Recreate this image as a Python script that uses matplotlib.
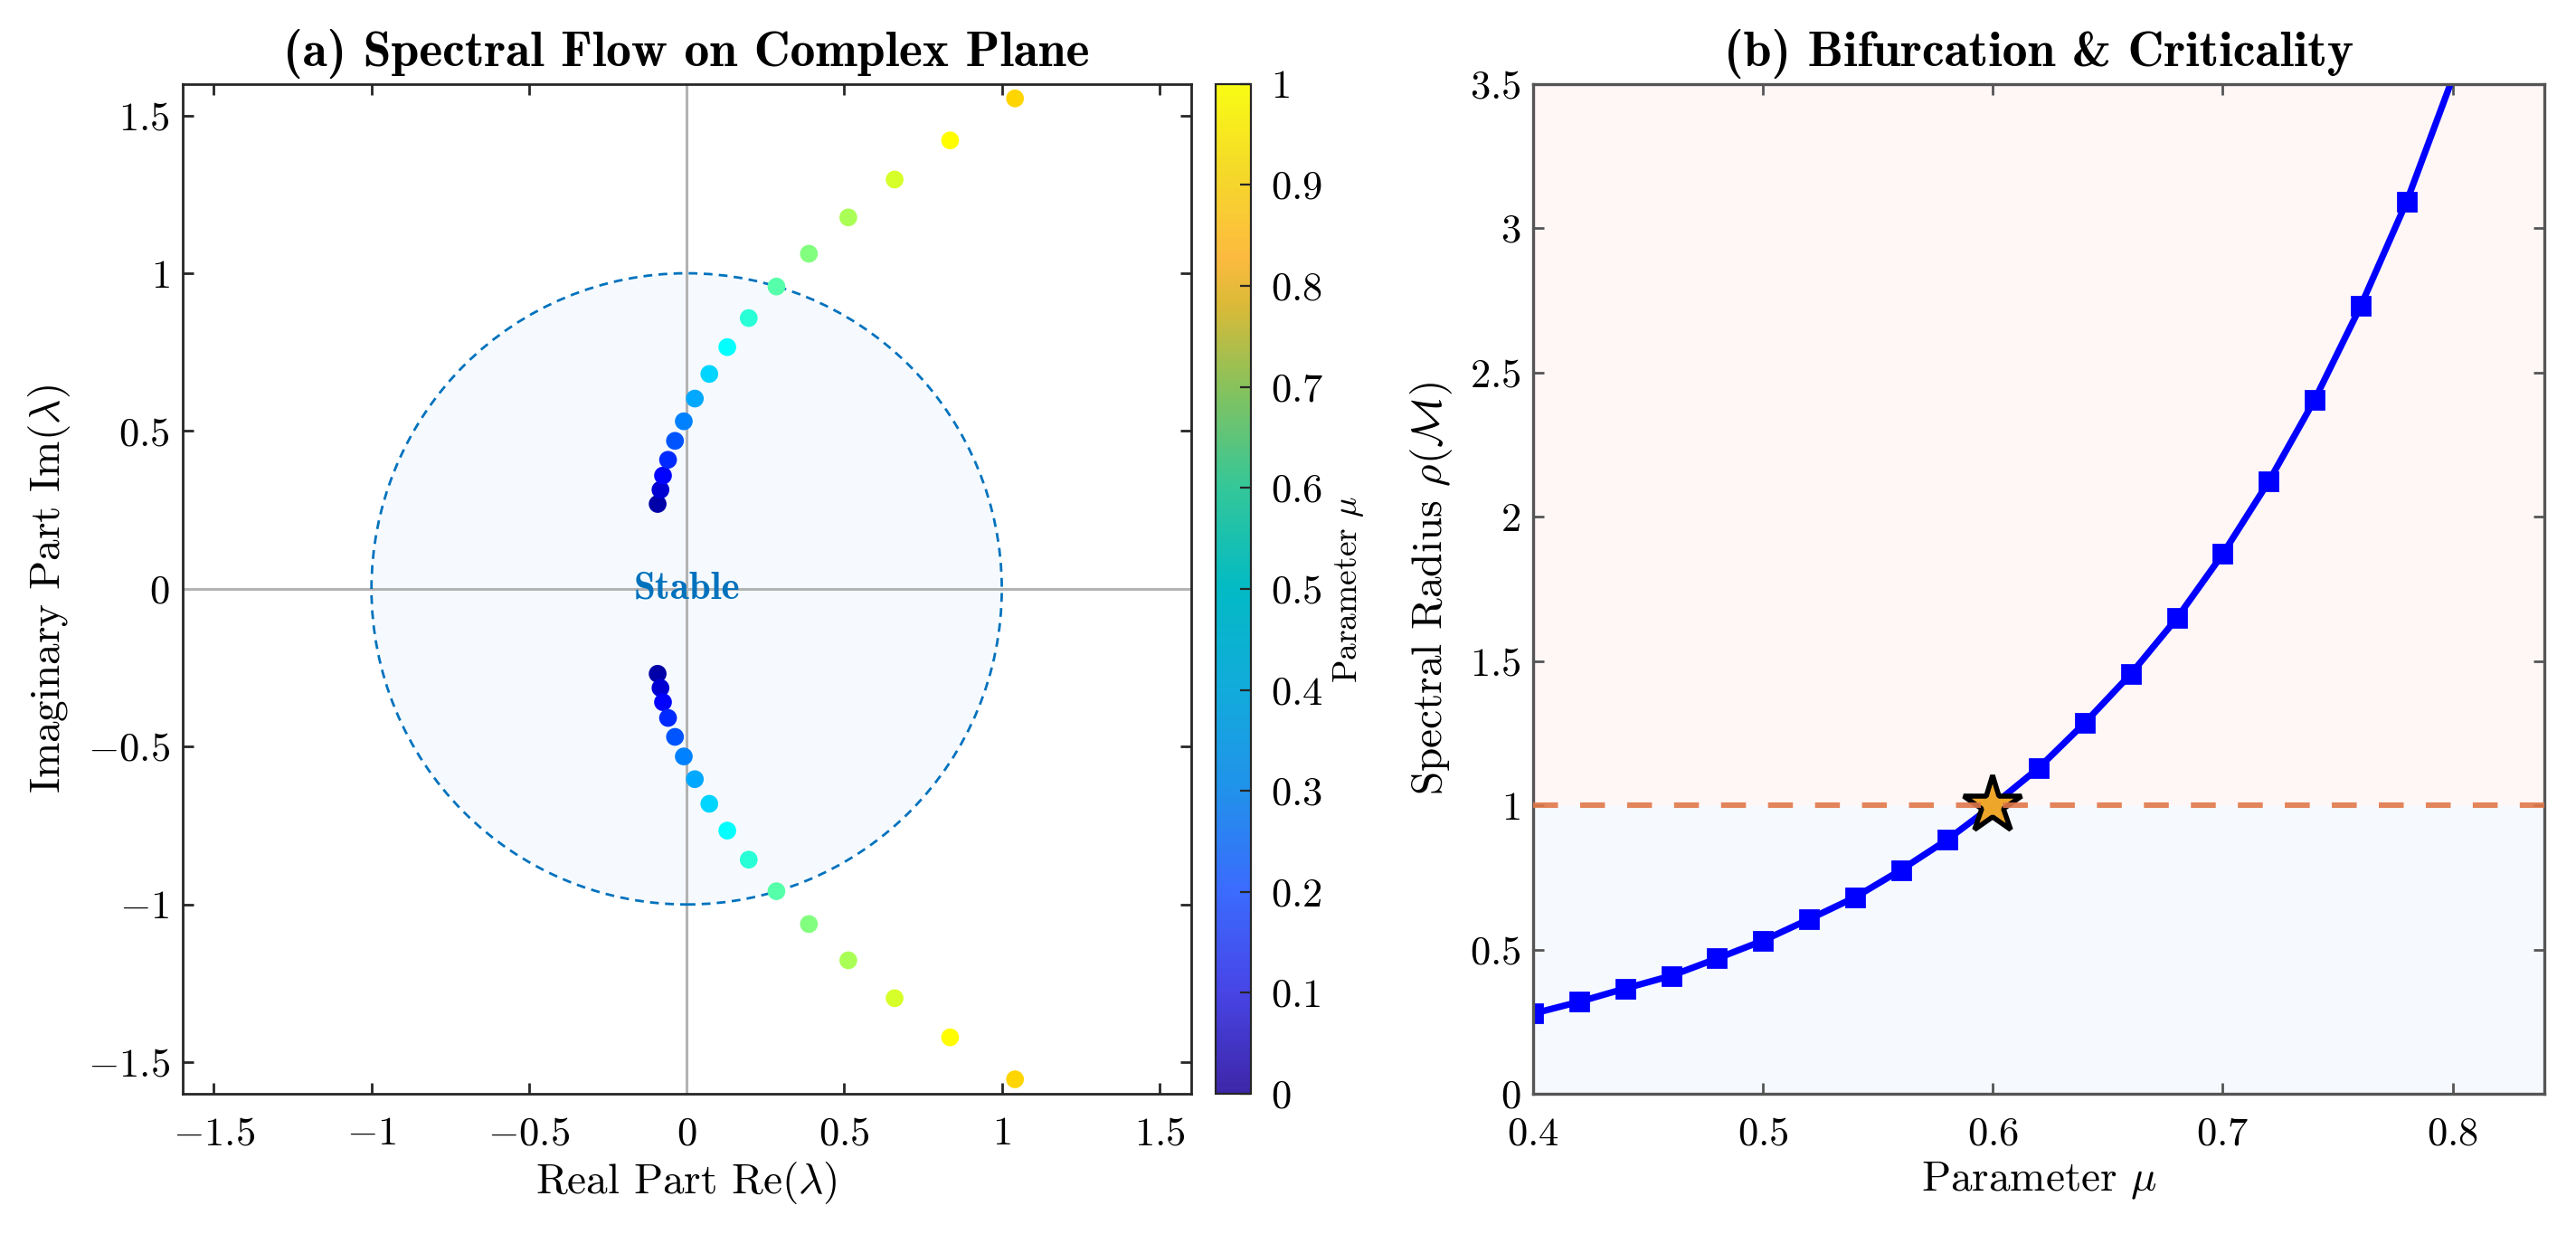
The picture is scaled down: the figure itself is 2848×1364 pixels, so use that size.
import numpy as np
import matplotlib
matplotlib.use("Agg")
import matplotlib.pyplot as plt
from matplotlib.colors import LinearSegmentedColormap, Normalize
from matplotlib.patches import Circle
from matplotlib.ticker import FuncFormatter, MultipleLocator
import matplotlib.cm as cm

plt.rcParams['font.family'] = 'serif'
plt.rcParams['font.serif'] = ['cmr10']
plt.rcParams['mathtext.fontset'] = 'cm'
plt.rcParams['axes.formatter.use_mathtext'] = True

# ---- data ----
# panel (a): upper-branch eigenvalues, the lower branch is the conjugate
mu_a = [0.40, 0.42, 0.44, 0.46, 0.48, 0.50, 0.52, 0.54,
        0.56, 0.58, 0.60, 0.62, 0.64, 0.66, 0.68, 0.70]
re_a = [-0.092, -0.083, -0.075, -0.059, -0.037, -0.009, 0.026, 0.072,
        0.129, 0.197, 0.285, 0.388, 0.513, 0.660, 0.836, 1.042]
im_a = [0.269, 0.314, 0.359, 0.409, 0.469, 0.531, 0.603, 0.681,
        0.766, 0.858, 0.958, 1.062, 1.177, 1.297, 1.421, 1.554]

# panel (b): spectral radius vs mu
mu_b = [0.40, 0.42, 0.44, 0.46, 0.48, 0.50, 0.52, 0.54, 0.56, 0.58, 0.60,
        0.62, 0.64, 0.66, 0.68, 0.70, 0.72, 0.74, 0.76, 0.78, 0.80]
rho_b = [0.278, 0.319, 0.365, 0.409, 0.469, 0.531, 0.605, 0.681, 0.776, 0.880, 1.0,
         1.130, 1.286, 1.455, 1.648, 1.871, 2.122, 2.406, 2.730, 3.092, 3.52]
crit_mu = 0.6
crit_rho = 1.0
unit_radius = 1.0

# MATLAB-style jet for the points, parula-like map for the colorbar
jet_m = LinearSegmentedColormap.from_list('jet_m', [
    (0.0, (0, 0, 0.5)), (0.125, (0, 0, 1)), (0.375, (0, 1, 1)),
    (0.625, (1, 1, 0)), (0.875, (1, 0, 0)), (1.0, (0.5, 0, 0))])
parula = LinearSegmentedColormap.from_list('parula', [
    (0.0, (0.2422, 0.1504, 0.6603)), (0.1, (0.2780, 0.2700, 0.9000)),
    (0.2, (0.2300, 0.4200, 0.9950)), (0.3, (0.1300, 0.5700, 0.9200)),
    (0.4, (0.0700, 0.6700, 0.8600)), (0.5, (0.0100, 0.7300, 0.7700)),
    (0.6, (0.2000, 0.7800, 0.6000)), (0.7, (0.5300, 0.7600, 0.3600)),
    (0.78, (0.8500, 0.7300, 0.2200)), (0.83, (0.9900, 0.7300, 0.2500)),
    (0.92, (0.9600, 0.8600, 0.1600)), (1.0, (0.9769, 0.9839, 0.0805))])

tick_fmt = FuncFormatter(lambda v, p: '$%g$' % round(v, 3))

fig = plt.figure(figsize=(14.24, 6.82), dpi=200)
ax1 = fig.add_axes([0.0708, 0.1136, 0.3915, 0.8184])
cax = fig.add_axes([0.4719, 0.1136, 0.0137, 0.8184])
ax2 = fig.add_axes([0.5952, 0.1136, 0.3926, 0.8184])

# ---- (a) complex plane ----
ax1.add_patch(Circle((0, 0), unit_radius, facecolor='#F6FAFE', edgecolor='none', zorder=1))
ax1.axhline(0, color='#B3B3B3', lw=1.1, zorder=2)
ax1.axvline(0, color='#B3B3B3', lw=1.1, zorder=2)
ax1.add_patch(Circle((0, 0), unit_radius, fill=False, edgecolor='#0072BD', lw=1.0,
                     linestyle=(0, (3.5, 2.5)), zorder=2.5))
cols = jet_m(Normalize(0.38, 0.86)(np.array(mu_a)))
ax1.scatter(re_a, im_a, s=50, c=cols, edgecolors='none', zorder=3)
ax1.scatter(re_a, -np.array(im_a), s=50, c=cols, edgecolors='none', zorder=3)
ax1.text(0, 0, 'Stable', family='cmb10', color='#0072BD', fontsize=15.5,
         ha='center', va='center', zorder=4)
ax1.set_xlim(-1.6, 1.6)
ax1.set_ylim(-1.6, 1.6)
ax1.xaxis.set_major_locator(MultipleLocator(0.5))
ax1.yaxis.set_major_locator(MultipleLocator(0.5))
ax1.xaxis.set_major_formatter(tick_fmt)
ax1.yaxis.set_major_formatter(tick_fmt)
ax1.tick_params(direction='in', top=True, right=True, length=4.3, width=1.0,
                labelsize=16, pad=5, color='#262626')
ax1.tick_params(axis='x', pad=9)
for s in ax1.spines.values():
    s.set_color('#262626')
    s.set_linewidth(1.0)
ax1.set_xlabel(r'Real Part Re($\lambda$)', fontsize=17, labelpad=3)
ax1.set_ylabel(r'Imaginary Part Im($\lambda$)', fontsize=17, labelpad=6)
ax1.set_title('(a) Spectral Flow on Complex Plane', family='cmb10', fontsize=20, pad=7)

# colorbar
sm = cm.ScalarMappable(norm=Normalize(0, 1), cmap=parula)
cb = fig.colorbar(sm, cax=cax, ticks=np.arange(0, 1.01, 0.1))
cb.ax.yaxis.set_major_formatter(tick_fmt)
cb.ax.tick_params(direction='in', length=4.3, width=0.8, labelsize=16, pad=8, color='#262626')
cb.outline.set_linewidth(0.8)
cb.outline.set_edgecolor('#262626')
cb.set_label(r'Parameter $\mu$', fontsize=13.5, labelpad=3)

# ---- (b) bifurcation ----
ax2.axhspan(0, crit_rho, color='#F6FAFE', lw=0, zorder=0)
ax2.axhspan(crit_rho, 3.5, color='#FFF6F6', lw=0, zorder=0)
ax2.plot(mu_b, rho_b, color='blue', lw=2.6, zorder=2)
vis = np.array(rho_b) <= 3.5
ax2.plot(np.array(mu_b)[vis], np.array(rho_b)[vis], 's', color='blue', ms=7.4, zorder=2)
ax2.plot(crit_mu, crit_rho, '*', ms=24, markerfacecolor='#EDA62A', markeredgecolor='black',
         markeredgewidth=2.0, zorder=3)
ax2.axhline(crit_rho, color='#E0784A', lw=2.2, linestyle=(0, (4.5, 4)), alpha=0.9, zorder=4)
ax2.set_xlim(0.4, 0.84)
ax2.set_ylim(0, 3.5)
ax2.xaxis.set_major_locator(MultipleLocator(0.1))
ax2.yaxis.set_major_locator(MultipleLocator(0.5))
ax2.xaxis.set_major_formatter(tick_fmt)
ax2.yaxis.set_major_formatter(tick_fmt)
ax2.tick_params(direction='in', top=True, right=True, length=4.3, width=1.0,
                labelsize=16, pad=5, color='#555555')
ax2.tick_params(axis='x', pad=9)
for s in ax2.spines.values():
    s.set_color('#555555')
    s.set_linewidth(1.2)
ax2.set_xlabel(r'Parameter $\mu$', fontsize=17, labelpad=3)
ax2.set_ylabel(r'Spectral Radius $\rho(\mathcal{M})$', fontsize=17, labelpad=6)
ax2.set_title('(b) Bifurcation & Criticality', family='cmb10', fontsize=20, pad=7)

fig.savefig('out.png', dpi=200)
